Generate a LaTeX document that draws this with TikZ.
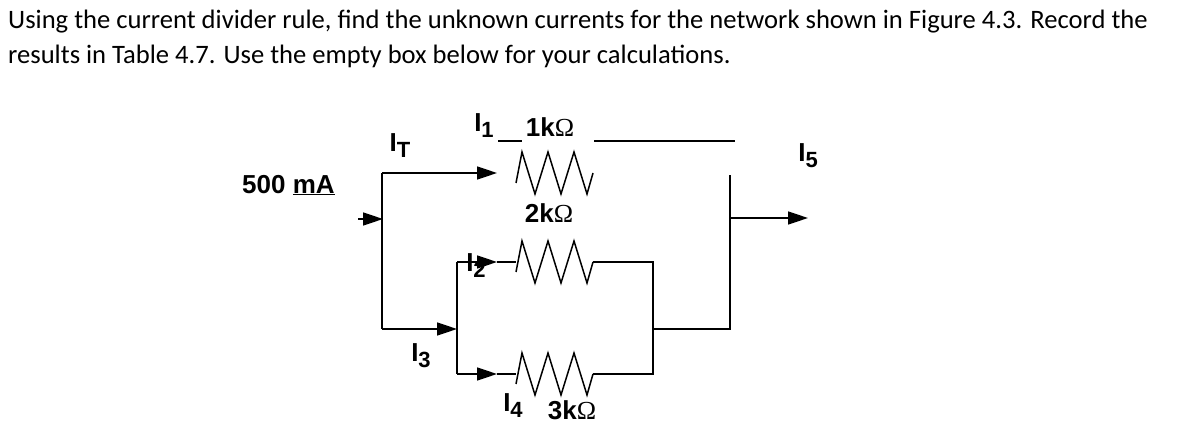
\documentclass[tikz,border=0pt]{standalone}
\usepackage{fontspec}
\setmainfont{Carlito}
\newfontfamily\arl{Liberation Sans}
\newfontfamily\srf{Liberation Serif}
\newcommand{\ohm}{{\srf\mdseries Ω}}
\newcommand{\sbs}[1]{\raisebox{-6pt}{\fontsize{22}{22}\selectfont #1}}
\usetikzlibrary{arrows.meta}
\begin{document}
\begin{tikzpicture}[x=1pt,y=-1pt,
  w/.style={line width=1.6pt},
  ar/.style={w,-{Triangle[length=20pt,width=13pt]}},
  lb/.style={font=\arl\bfseries\fontsize{26}{26}\selectfont,inner sep=0pt},
  zz/.style={line width=1.5pt,line join=miter}]
\useasboundingbox (0,0) rectangle (1200,422);
\node[anchor=west,inner sep=0pt,font=\fontsize{26.6}{30}\selectfont] (t1) at (8,22) {Using the current divider rule, find the unknown currents for the network shown in Figure 4.3. Record the};
\node[anchor=west,inner sep=0pt,font=\fontsize{26.6}{30}\selectfont] (t2) at (8,56) {results in Table 4.7. Use the empty box below for your calculations.};
% junction points
\coordinate (A) at (382,173);
\coordinate (B) at (382,329);
\coordinate (C) at (457,262);
\coordinate (D) at (457,374);
\coordinate (E) at (653,262);
\coordinate (F) at (653,374);
\coordinate (G) at (653,329);
\coordinate (H) at (730,329);
\coordinate (K) at (730,175);
\coordinate (inS) at (358,219);
\coordinate (inE) at (383,219);
\coordinate (outE) at (808,218);
\coordinate (outS) at (730,218);
\coordinate (r1) at (497,173);
\coordinate (r2) at (497,262);
\coordinate (r4) at (497,374);
\coordinate (Bm) at (457,329);
\coordinate (T1) at (594,141);
\coordinate (T2) at (735,141);
\draw[w] (A) -- (B);
\draw[ar] (inS) -- (inE);
\draw[ar] (A) -- (r1);
\draw[ar] (B) -- (Bm);
\draw[w] (C) -- (D);
\draw[ar] (C) -- (r2);
\draw[ar] (D) -- (r4);
\draw[w] (r2) -- (516,262);
\draw[w] (r4) -- (516,374);
\draw[w] (593,262) -- (E) -- (F) -- (593,374);
\draw[w] (G) -- (H) -- (K);
\draw[ar] (outS) -- (outE);
\draw[w] (T1) -- (T2);
% resistors
\foreach \y in {173,262,374}{
\draw[zz] (516,\y+10) -- (522,\y-21) -- (535,\y+21) -- (548,\y-21) -- (561,\y+21) -- (574,\y-21) -- (587,\y+21) -- (593,\y);
}
\node[lb] (iT) at (400,146) {I\sbs{T}};
\node[lb] (i1) at (484,126) {I\sbs{1}};
\draw[w] (498,141) -- (522,141);
\node[lb] (k1) at (550,127) {1k\ohm};
\node[lb] (i5) at (808,156) {I\sbs{5}};
\node[lb,anchor=west] (ma) at (242,185) {500 \underline{mA}};
\node[lb] (k2) at (549,213) {2k\ohm};
\node[lb] (i2) at (476,266) {I\sbs{2}};
\node[lb] (i3) at (421,356) {I\sbs{3}};
\node[lb] (i4) at (513,406) {I\sbs{4}};
\node[lb] (k3) at (572,410) {3k\ohm};
\end{tikzpicture}
\end{document}
